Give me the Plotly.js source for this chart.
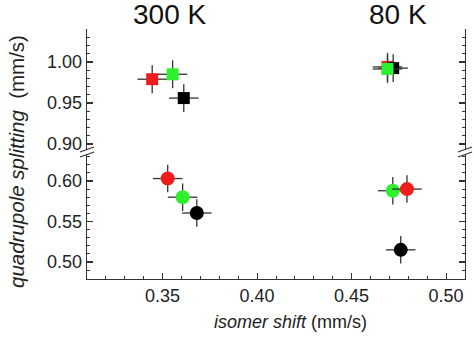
<!DOCTYPE html>
<html>
<head>
<meta charset="utf-8">
<script src="https://cdn.plot.ly/plotly-3.0.1.min.js"></script>
<style>html,body{margin:0;padding:0;background:#fff;}#chart{width:474px;height:338px;}</style>
</head>
<body>
<div id="chart"></div>
<script>
// Temperatures: first value 300 K, second value 80 K
var temperatures = ["300 K", "80 K"];
// Squares (upper branch)
var sqRedX = [0.3445, 0.4690];
var sqRedY = [0.979, 0.994];
var sqGreenX = [0.3553, 0.4690];
var sqGreenY = [0.985, 0.9915];
var sqBlackX = [0.3612, 0.4720];
var sqBlackY = [0.956, 0.9925];
// Circles (lower branch)
var ciRedX = [0.3527, 0.4793];
var ciRedY = [0.603, 0.590];
var ciGreenX = [0.3606, 0.4718];
var ciGreenY = [0.580, 0.588];
var ciBlackX = [0.3681, 0.4760];
var ciBlackY = [0.5605, 0.515];
// Uncertainties
var errX = [0.0078, 0.0078];
var errY = [0.017, 0.017];
var xTickVals = [0.35, 0.40, 0.45, 0.50];
var xTickText = ["0.35", "0.40", "0.45", "0.50"];

var RED = "#ee1c1c", GREEN = "#2ef02e", BLACK = "#000000";
var FONT = "Arial, 'Liberation Sans', sans-serif";

function tr(x, y, color, symbol, size, yax) {
  return {
    type: "scatter", mode: "markers", x: x, y: y, yaxis: yax, xaxis: "x",
    marker: {color: color, symbol: symbol, size: size, line: {width: 0}},
    error_x: {type: "data", array: errX, visible: true, color: "#333", thickness: 1.3, width: 0},
    error_y: {type: "data", array: errY, visible: true, color: "#333", thickness: 1.3, width: 0},
    showlegend: false, hoverinfo: "skip"
  };
}

var data = [
  tr(sqRedX, sqRedY, RED, "square", 12, "y2"),
  tr(sqBlackX, sqBlackY, BLACK, "square", 12, "y2"),
  tr(sqGreenX, sqGreenY, GREEN, "square", 12, "y2"),
  tr(ciGreenX, ciGreenY, GREEN, "circle", 14, "y"),
  tr(ciBlackX, ciBlackY, BLACK, "circle", 14, "y"),
  tr(ciRedX, ciRedY, RED, "circle", 14, "y")
];

var axCommon = {
  showline: true, linecolor: "#333", linewidth: 1.3,
  ticks: "inside", ticklen: 6, tickwidth: 1.2, tickcolor: "#333",
  showgrid: false, zeroline: false,
  tickfont: {family: FONT, size: 18, color: "#222"},
  minor: {ticks: "inside", ticklen: 3, tickwidth: 1, tickcolor: "#333", dtick: 0.01, showgrid: false}
};

function paperX(px) { return (px - 87) / 378; }
function paperY(py) { return (279 - py) / 250; }

function breakLines(cx) {
  var out = [];
  [[157, 152], [152, 147]].forEach(function (p) {
    out.push({type: "line", xref: "paper", yref: "paper",
      x0: paperX(cx - 7), y0: paperY(p[0]), x1: paperX(cx + 7), y1: paperY(p[1]),
      line: {color: "#333", width: 1.3}});
  });
  return out;
}

var layout = {
  width: 474, height: 338,
  margin: {l: 87, r: 9, t: 29, b: 59},
  paper_bgcolor: "#fff", plot_bgcolor: "#fff",
  font: {family: FONT, color: "#222"},
  xaxis: Object.assign({}, axCommon, {
    range: [0.31, 0.51], anchor: "y", tickvals: xTickVals, ticktext: xTickText, mirror: false
  }),
  xaxis2: Object.assign({}, axCommon, {
    range: [0.31, 0.51], anchor: "y2", side: "top", overlaying: "x", matches: "x",
    tickvals: xTickVals, showticklabels: false
  }),
  yaxis: Object.assign({}, axCommon, {
    domain: [0, 0.496], range: [0.479, 0.6321], tick0: 0.5, dtick: 0.05, tickformat: ".2f",
    mirror: "ticks", anchor: "x"
  }),
  yaxis2: Object.assign({}, axCommon, {
    domain: [0.516, 1], range: [0.8927, 1.0402], tick0: 0.9, dtick: 0.05, tickformat: ".2f",
    mirror: "ticks", anchor: "x"
  }),
  shapes: breakLines(87).concat(breakLines(465)),
  annotations: [
    {xref: "paper", yref: "paper", x: paperX(169), y: paperY(15), text: temperatures[0],
     showarrow: false, xanchor: "center", yanchor: "middle", font: {family: FONT, size: 28, color: "#111"}},
    {xref: "paper", yref: "paper", x: paperX(398), y: paperY(15), text: temperatures[1],
     showarrow: false, xanchor: "center", yanchor: "middle", font: {family: FONT, size: 28, color: "#111"}},
    {xref: "paper", yref: "paper", x: paperX(290), y: paperY(322), text: "<i>isomer shift</i> (mm/s)",
     showarrow: false, xanchor: "center", yanchor: "middle", font: {family: FONT, size: 18, color: "#222"}},
    {xref: "paper", yref: "paper", x: paperX(16), y: paperY(162), text: "<i>quadrupole splitting</i>  (mm/s)",
     showarrow: false, xanchor: "center", yanchor: "middle", textangle: -90, font: {family: FONT, size: 20.5, color: "#222"}}
  ]
};

Plotly.newPlot("chart", data, layout, {staticPlot: true, displayModeBar: false});
</script>
</body>
</html>
